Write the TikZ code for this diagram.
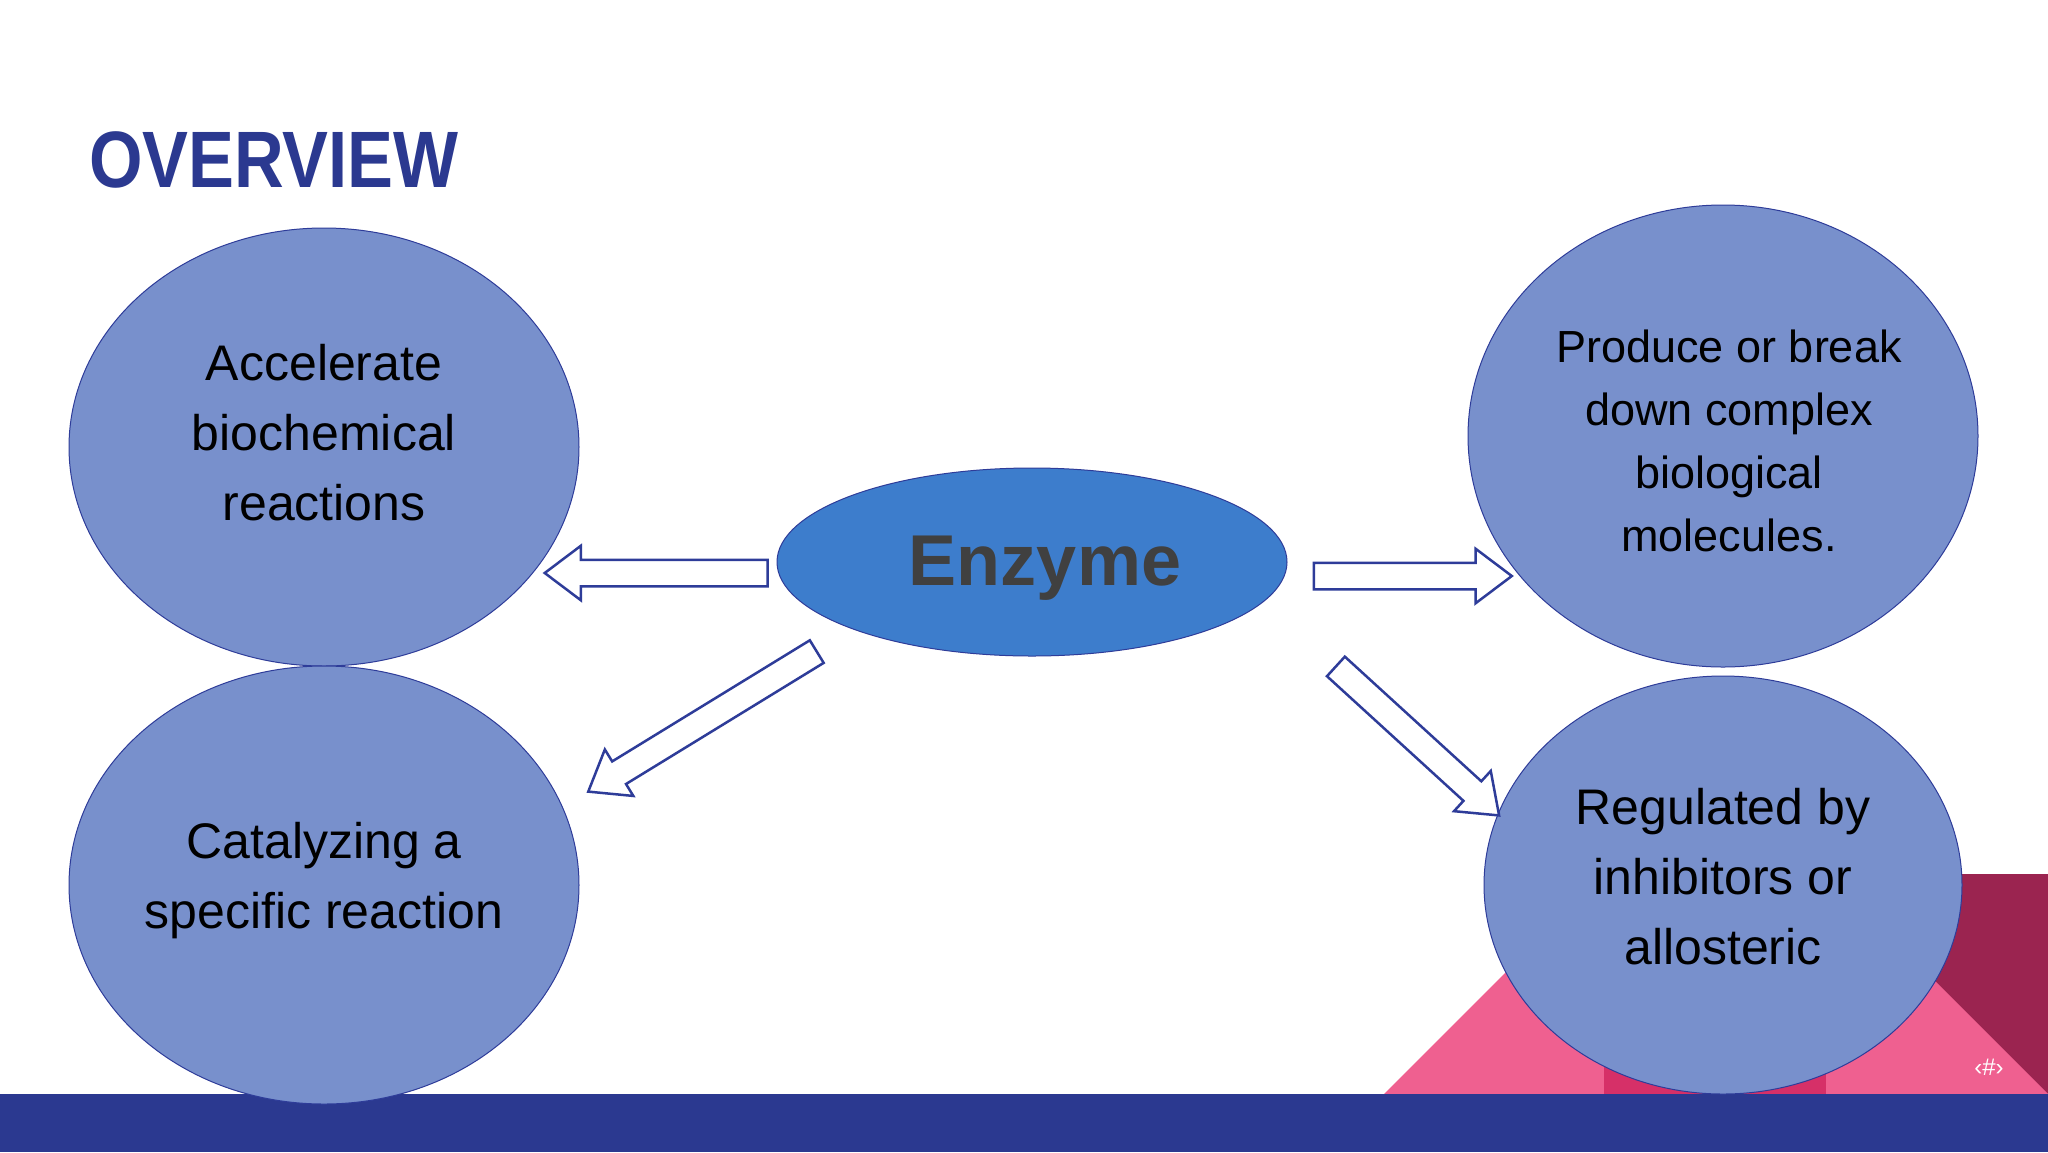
\documentclass[tikz,border=0pt]{standalone}
\usepackage{fontspec}
\setmainfont{Liberation Sans}
\usetikzlibrary{shapes.geometric,shapes.arrows}
\definecolor{navy}{HTML}{2B3990}
\definecolor{edge}{HTML}{2E3C99}
\definecolor{bubble}{HTML}{7890CC}
\definecolor{enz}{HTML}{3D7DCC}
\definecolor{maroon}{HTML}{9B2450}
\definecolor{pinkA}{HTML}{EF6090}
\definecolor{pinkB}{HTML}{D63068}
\tikzset{
 bub/.style={ellipse,draw=edge,line width=1pt,fill=bubble,align=center,font=\fontsize{50}{70}\selectfont,inner sep=0pt},
 barrow/.style={single arrow,draw=edge,line width=2.5pt,fill=white,minimum width=52pt,single arrow head extend=14pt,single arrow tip angle=74,inner sep=0pt,inner ysep=12pt}
}
\begin{document}
\begin{tikzpicture}[x=1pt,y=-1pt]
\useasboundingbox (0,0) rectangle (2048,1152);
\fill[white] (0,0) rectangle (2048,1152);
\fill[maroon] (1933,874) rectangle (2048,1094);
\fill[pinkA] (1384,1094) -- (1716,762) -- (2048,1094) -- cycle;
\fill[pinkB] (1604,900) rectangle (1826,1094);
\fill[navy] (0,1094) rectangle (2048,1152);
\node[anchor=west,text=navy,xscale=0.86,font=\fontsize{80}{90}\selectfont\bfseries] (title) at (86,160) {OVERVIEW};
\node[bub,minimum width=510pt,minimum height=438pt] (acc) at (324,447) {};
\node[align=center,font=\fontsize{50}{70}\selectfont] (acct) at (324,433) {Accelerate\\biochemical\\reactions};
\node[bub,minimum width=510pt,minimum height=438pt] (cat) at (324,885) {};
\node[align=center,font=\fontsize{50}{70}\selectfont] (catt) at (324,881) {Catalyzing a\\specific reaction};
\node[bub,minimum width=510pt,minimum height=462pt] (pro) at (1723,436) {};
\node[align=center,font=\fontsize{45}{63}\selectfont] (prot) at (1729,441) {Produce or break\\down complex\\biological\\molecules.};
\node[bub,minimum width=478pt,minimum height=418pt] (reg) at (1723,885) {};
\node[align=center,font=\fontsize{50}{70}\selectfont] (regt) at (1723,877) {Regulated by\\inhibitors or\\allosteric};
\node[ellipse,draw=edge,line width=1pt,fill=enz,minimum width=510pt,minimum height=188pt] (enzyme) at (1032,562) {};
\node[text=black!75,font=\fontsize{72}{80}\selectfont\bfseries] (enzt) at (1045,568) {Enzyme};
\node[barrow,minimum height=223pt,shape border rotate=180] (a1) at (665,573) {};
\node[barrow,minimum height=198pt] (a2) at (1404,576) {};
\node[barrow,minimum height=268pt,rotate=211.5] (a3) at (710,717) {};
\node[barrow,minimum height=221pt,rotate=-42.4] (a4) at (1411,735) {};
\node[text=white,font=\fontsize{24}{28}\selectfont] (num) at (1989,1067) {‹\#›};
\end{tikzpicture}
\end{document}
